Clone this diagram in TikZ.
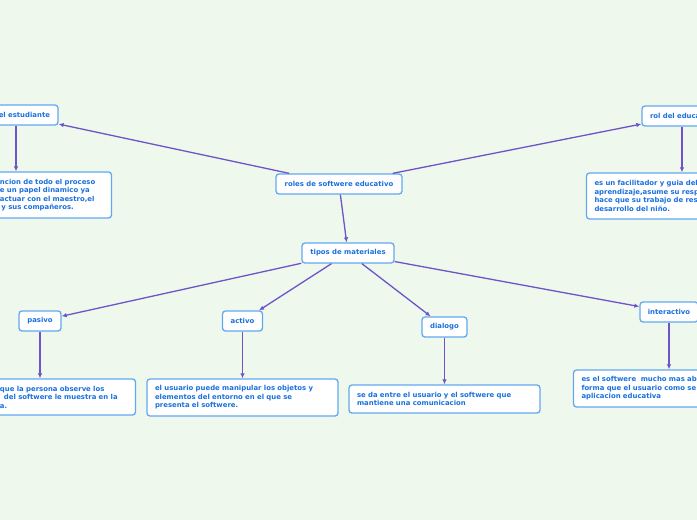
\documentclass[tikz,border=0pt]{standalone}
\usepackage{fontspec}
\setmainfont{DejaVu Sans}
\usetikzlibrary{arrows.meta}
\definecolor{bgc}{RGB}{239,248,236}
\definecolor{bdc}{RGB}{98,168,240}
\definecolor{txc}{RGB}{26,112,222}
\definecolor{edc}{RGB}{110,84,200}
\begin{document}
\begin{tikzpicture}[x=1pt,y=-1pt,
  box/.style={draw=bdc, line width=1.3pt, fill=white, rounded corners=3pt, text=txc,
    font=\fontsize{6.9}{8.5}\selectfont\bfseries, inner sep=0pt, minimum height=20pt},
  desc/.style={box, text width=175pt, align=left, inner xsep=8pt, inner ysep=2pt},
  edge/.style={draw=edc, line width=1.3pt, -{Latex[length=5pt,width=4.5pt]}}]
\fill[bgc] (0,0) rectangle (697,520);
\useasboundingbox (0,0) rectangle (697,520);
\clip (0,0) rectangle (697,520);

\node[box, minimum width=126pt] (roles) at (339,184) {roles de softwere educativo};
\node[box, minimum width=92pt] (tipos) at (348,253) {tipos de materiales};
\node[box, minimum width=84pt, text width=68pt, align=right] (est) at (16,115) {el estudiante};
\node[box, minimum width=80pt, text width=64pt, align=left] (edu) at (682,116) {rol del educa};
\node[box, minimum width=42pt] (pas) at (40,321) {pasivo};
\node[box, minimum width=40pt] (act) at (242.5,321) {activo};
\node[box, minimum width=45pt] (dia) at (444.5,327) {dialogo};
\node[box, minimum width=58pt] (int) at (669,312) {interactivo};

\node[desc, minimum height=46pt] (estd) at (16,195) {\hspace*{71.5pt}ncion de todo el proceso\\\hspace*{71.5pt}e un papel dinamico ya\\\hspace*{71.5pt}actuar con el maestro,el\\\hspace*{73pt}y sus compañeros.};
\node[desc, minimum height=46pt] (edud) at (682,196) {es un facilitador y guia del\\aprendizaje,asume su resp\\hace que su trabajo de res\\desarrollo del niño.};
\node[desc, minimum height=36pt] (pasd) at (40,397) {\hspace*{47.5pt}que la persona observe los\\\hspace*{51.5pt}del softwere le muestra en la\\\hspace*{47.5pt}a.};
\node[desc, minimum height=37pt] (actd) at (242.5,397.5) {el usuario puede manipular los objetos y\\elementos del entorno en el que se\\presenta el softwere.};
\node[desc, minimum height=28pt] (diad) at (444.5,399) {se da entre el usuario y el softwere que\\mantiene una comunicacion};
\node[desc, minimum height=37pt] (intd) at (669,388.5) {es el softwere\ \ mucho mas ab\\forma que el usuario como se\\aplicacion educativa};

\draw[edge] (roles) -- (est);
\draw[edge] (roles) -- (edu);
\draw[edge] (roles) -- (tipos);
\draw[edge] (tipos) -- (pas);
\draw[edge] (tipos) -- (act);
\draw[edge] (tipos) -- (dia);
\draw[edge] (tipos) -- (int);
\draw[edge] (est) -- (estd);
\draw[edge] (edu) -- (edud);
\draw[edge] (pas) -- (pasd);
\draw[edge] (act) -- (actd);
\draw[edge] (dia) -- (diad);
\draw[edge] (int) -- (intd);
\end{tikzpicture}
\end{document}
